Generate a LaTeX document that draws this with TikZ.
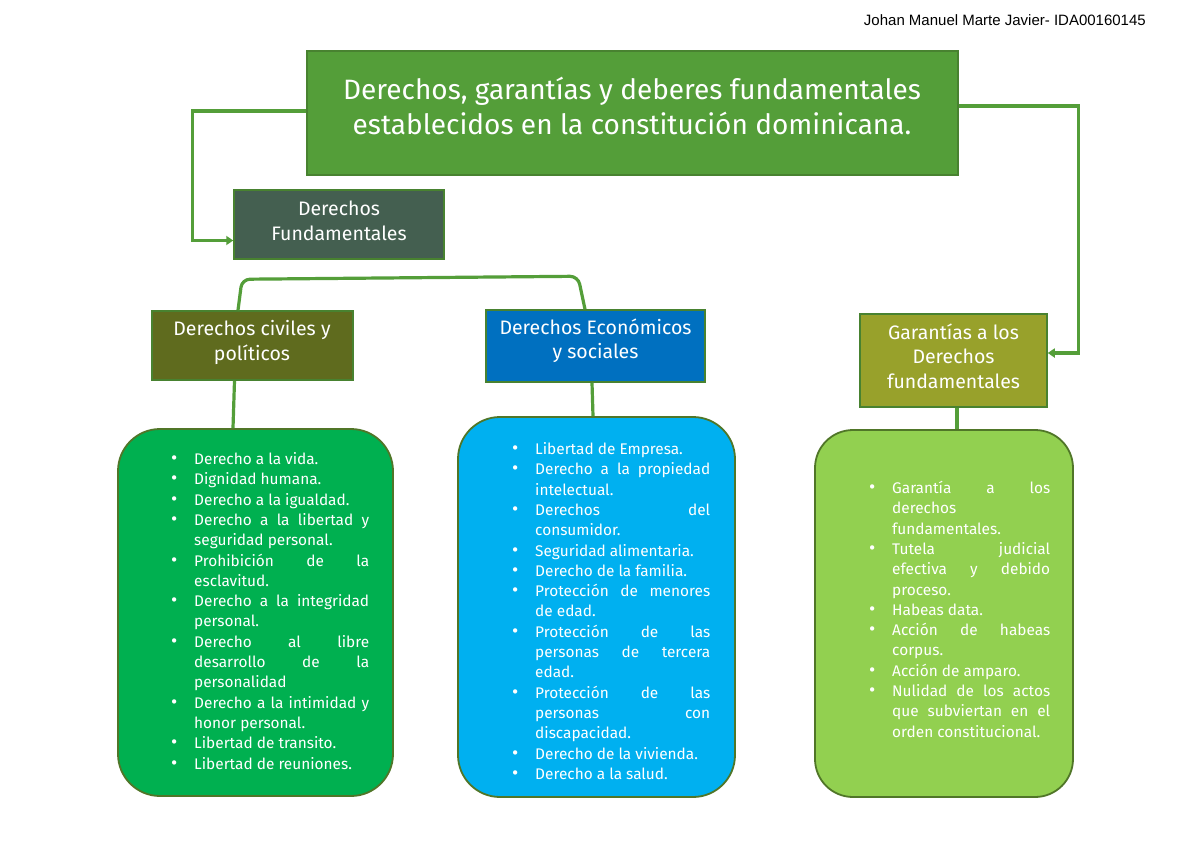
\documentclass[tikz,border=0pt]{standalone}
\usepackage{fontspec}
\setmainfont{Fira Sans}
\newfontfamily\authorfont{Liberation Sans}
\usetikzlibrary{arrows.meta}
\definecolor{titlegreen}{RGB}{84,158,57}
\definecolor{edgegreen}{RGB}{72,130,48}
\definecolor{dfcol}{RGB}{68,95,80}
\definecolor{civcol}{RGB}{95,107,30}
\definecolor{ecocol}{RGB}{0,112,192}
\definecolor{garcol}{RGB}{152,161,43}
\definecolor{lgreen}{RGB}{0,176,80}
\definecolor{lblue}{RGB}{0,176,240}
\definecolor{llime}{RGB}{146,208,80}
\definecolor{rboxedge}{RGB}{80,118,40}
\newcommand\listsetup{\hyphenpenalty=10000 \exhyphenpenalty=10000 \tolerance=10000 \hbadness=10000 \emergencystretch=20pt \parindent=0pt \parskip=0pt }
\newcommand\bul[1]{\par\noindent\hangindent=23pt\hangafter=1\makebox[23pt][l]{\scalebox{1.25}{•}}#1\par}
\begin{document}
\begin{tikzpicture}[x=1pt,y=-1pt,
  hbox/.style={draw=edgegreen,line width=1.5pt,inner sep=0pt},
  rbox/.style={draw=rboxedge,line width=1.8pt,rounded corners=40pt,inner sep=0pt},
  htext/.style={text=white,align=center,font=\fontsize{19.5}{24.5}\selectfont,inner sep=0pt},
  ltext/.style={text=white,anchor=north west,align=justify,inner sep=0pt,font=\fontsize{15.4}{20.3}\selectfont},
  conn/.style={draw=titlegreen,line width=3.2pt},
  arr/.style={-{Triangle[length=7pt,width=9pt]}}
]
\useasboundingbox (0,0) rectangle (1200,849);
\fill[white] (0,0) rectangle (1200,849);

\node[anchor=east,inner sep=0pt,font=\authorfont\fontsize{15}{17}\selectfont] (author) at (1146,20) {Johan Manuel Marte Javier- IDA00160145};

% title
\node[hbox,fill=titlegreen,minimum width=651pt,minimum height=124pt] (title) at (632.5,113) {};
\node[text=white,align=center,inner sep=0pt,font=\fontsize{28}{35}\selectfont] (titletxt) at (632,106) {Derechos, garantías y deberes fundamentales\\establecidos en la constitución dominicana.};

% headers
\node[hbox,fill=dfcol,minimum width=210pt,minimum height=69pt] (df) at (339,224.5) {};
\node[htext] (dftxt) at (339,221) {Derechos\\Fundamentales};

\node[hbox,fill=civcol,minimum width=201pt,minimum height=69pt] (civil) at (252.5,345.5) {};
\node[htext] (civiltxt) at (252,342.5) {Derechos civiles y\\políticos};

\node[hbox,fill=ecocol,minimum width=219pt,minimum height=72pt] (econ) at (595.5,346) {};
\node[htext] (econtxt) at (595.5,341) {Derechos Económicos\\y sociales};

\node[hbox,fill=garcol,minimum width=187pt,minimum height=93pt] (gar) at (953.5,360.5) {};
\node[htext] (gartxt) at (953.5,356) {Garantías a los\\Derechos\\fundamentales};

% rounded list boxes
\node[rbox,fill=lgreen,minimum width=275pt,minimum height=367pt,rounded corners=42pt] (gbox) at (255.5,612.5) {};
\node[rbox,fill=lblue,minimum width=277pt,minimum height=380pt,rounded corners=42pt] (bbox) at (596.5,607) {};
\node[rbox,fill=llime,minimum width=258pt,minimum height=367pt,rounded corners=38pt] (lbox) at (944,613.5) {};

% lists
\node[ltext,text width=198pt] (glist) at (171,444) {\listsetup
\bul{Derecho a la vida.}
\bul{Dignidad humana.}
\bul{Derecho a la igualdad.}
\bul{Derecho a la libertad y\linebreak seguridad personal.}
\bul{Prohibición de la\linebreak esclavitud.}
\bul{Derecho a la integridad\linebreak personal.}
\bul{Derecho al libre\linebreak desarrollo de la\linebreak personalidad}
\bul{Derecho a la intimidad y\linebreak honor personal.}
\bul{Libertad de transito.}
\bul{Libertad de reuniones.}};

\node[ltext,text width=198pt] (blist) at (512,434) {\listsetup
\bul{Libertad de Empresa.}
\bul{Derecho a la propiedad\linebreak intelectual.}
\bul{Derechos del\linebreak consumidor.}
\bul{Seguridad alimentaria.}
\bul{Derecho de la familia.}
\bul{Protección de menores\linebreak de edad.}
\bul{Protección de las\linebreak personas de tercera\linebreak edad.}
\bul{Protección de las\linebreak personas con\linebreak discapacidad.}
\bul{Derecho de la vivienda.}
\bul{Derecho a la salud.}};

\node[ltext,text width=181pt] (llist) at (869,473) {\listsetup
\bul{Garantía a los\linebreak derechos\newline fundamentales.}
\bul{Tutela judicial\linebreak efectiva y debido\linebreak proceso.}
\bul{Habeas data.}
\bul{Acción de habeas\linebreak corpus.}
\bul{Acción de amparo.}
\bul{Nulidad de los actos\linebreak que subviertan en el\linebreak orden constitucional.}};

% connectors
\draw[conn,arr] ([yshift=2pt]title.west) -- ++(-114,0) |- ([yshift=-16pt]df.west);
\draw[conn,arr] ([yshift=7pt]title.east) -- ++(120,0) |- ([yshift=7.5pt]gar.east);
\draw[conn,rounded corners=8pt] ([xshift=-14.5pt]civil.north) -- ++(4,-31) -- ++(336,-3) -- ([xshift=-10.5pt]econ.north);
\draw[conn] ([xshift=-18pt]civil.south) -- ([xshift=-22.5pt]gbox.north);
\draw[conn] ([xshift=-3.5pt]econ.south) -- ([xshift=-3.5pt]bbox.north);
\draw[conn] ([xshift=3.5pt]gar.south) -- ([xshift=13pt]lbox.north);
\end{tikzpicture}
\end{document}
